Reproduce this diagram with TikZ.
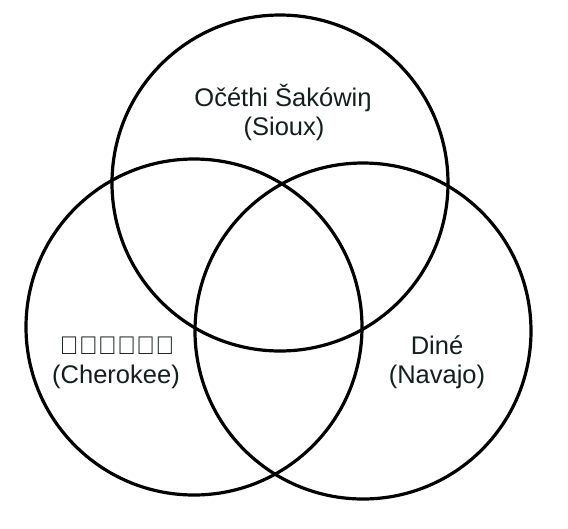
\documentclass[tikz,border=0pt]{standalone}
\usepackage{fontspec}
\setmainfont{Liberation Sans}
\definecolor{labelgray}{RGB}{20,30,30}
\begin{document}
\begin{tikzpicture}[x=1pt,y=-1pt]
\tikzset{
  ring/.style={draw=black, line width=3.2pt, circle, inner sep=0pt, minimum size=336pt},
  lbl/.style={font=\fontsize{25.5}{29}\selectfont, text=labelgray, inner sep=0pt, anchor=base}
}
\useasboundingbox (0,0) rectangle (568,528);
\fill[white] (0,0) rectangle (568,528);
\node[ring] (sioux) at (280,183) {};
\node[ring] (cherokee) at (194,327) {};
\node[ring] (navajo) at (363,331) {};
\node[lbl] (siouxA) at (283,106) {Očéthi Šakówiŋ};
\node[lbl] (siouxB) at (284,135) {(Sioux)};
\node[lbl] (cheroA) at (117,354) {ᎠᏂᏴᏫᏯᎢ};
\node[lbl] (cheroB) at (116,383) {(Cherokee)};
\node[lbl] (navA) at (437,354) {Diné};
\node[lbl] (navB) at (437,383) {(Navajo)};
\end{tikzpicture}
\end{document}
